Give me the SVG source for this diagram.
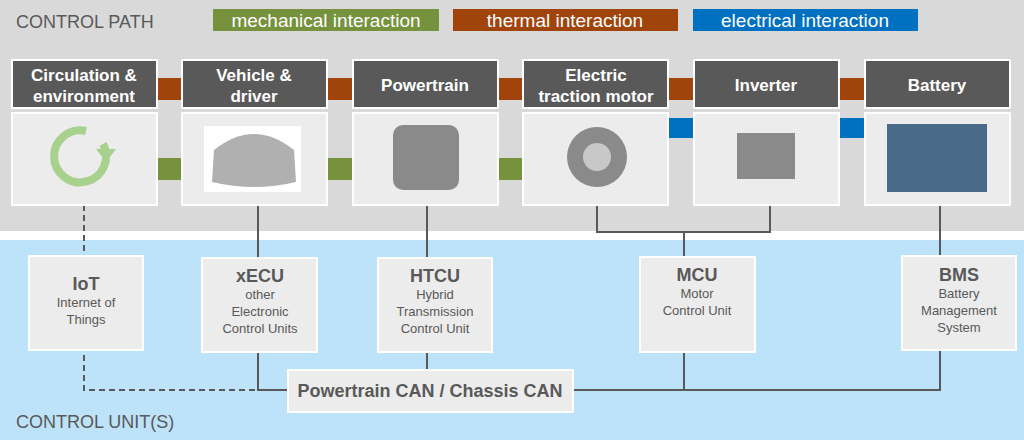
<svg xmlns="http://www.w3.org/2000/svg" width="1024" height="444" viewBox="0 0 1024 444">
<style>
text{font-family:"Liberation Sans",Arial,sans-serif}
.hd{fill:#595959;stroke:#fff;stroke-width:2}
.bd{fill:#ececec;stroke:#fff;stroke-width:2}
.ht{fill:#fff;font-size:17px;font-weight:bold;text-anchor:middle}
.ub{fill:#ececec;stroke:#fff;stroke-width:2}
.ut{fill:#595959;font-size:18px;font-weight:bold;text-anchor:middle}
.us{fill:#595959;font-size:13px;text-anchor:middle}
.th{fill:#a0440c}.me{fill:#76923c}.el{fill:#0070c0}
.ln{stroke:#595959;stroke-width:2;fill:none}
.lg{fill:#fff;font-size:19px;text-anchor:middle}
</style>
<rect width="1024" height="444" fill="#fff"/>
<rect width="1024" height="231" fill="#d9d9d9"/>
<rect y="240" width="1024" height="200" fill="#bde3fa"/>
<text x="16" y="28" font-size="18" fill="#595959">CONTROL PATH</text>
<rect x="213" y="9" width="226" height="22" class="me"/><text x="326" y="27" class="lg">mechanical interaction</text>
<rect x="453" y="9" width="225" height="22" class="th"/><text x="565" y="27" class="lg">thermal interaction</text>
<rect x="693" y="9" width="225" height="22" class="el"/><text x="805" y="27" class="lg">electrical interaction</text>
<g id="interactions">
<rect x="156" y="78" width="28" height="22" class="th"/><rect x="326" y="78" width="28" height="22" class="th"/><rect x="497" y="78" width="28" height="22" class="th"/><rect x="667" y="78" width="28" height="22" class="th"/><rect x="838" y="78" width="28" height="22" class="th"/>
<rect x="156" y="158" width="28" height="22" class="me"/><rect x="326" y="158" width="28" height="22" class="me"/><rect x="497" y="158" width="28" height="22" class="me"/>
<rect x="667" y="118" width="28" height="20" class="el"/><rect x="838" y="118" width="28" height="20" class="el"/>
</g>
<g id="connectors">
<path class="ln" d="M84 205V390H258" stroke-dasharray="6,4"/>
<path class="ln" d="M258 205V390H940V205M427 205V390M597 205V232H770V205M684 232V390"/>
</g>
<g id="circulation"><rect x="12" y="60" width="145" height="48" class="hd"/><rect x="12" y="113" width="145" height="92" class="bd"/><text x="84" y="81" class="ht">Circulation &amp;</text><text x="84" y="102" class="ht">environment</text>
<path d="M103 144A26 26 0 1 1 86 131" fill="none" stroke="#a9d18e" stroke-width="8"/><path d="M96 149L116 149L106 162Z" fill="#a9d18e"/></g>
<g id="vehicle"><rect x="182" y="60" width="145" height="48" class="hd"/><rect x="182" y="113" width="145" height="92" class="bd"/><text x="254" y="81" class="ht">Vehicle &amp;</text><text x="254" y="102" class="ht">driver</text>
<rect x="204" y="126" width="97" height="66" fill="#fff"/><path d="M214 150Q254 118 294 150L296 182Q254 192 212 182Z" fill="#b0b0b0"/></g>
<g id="powertrain"><rect x="353" y="60" width="145" height="48" class="hd"/><rect x="353" y="113" width="145" height="92" class="bd"/><text x="425" y="91" class="ht">Powertrain</text>
<rect x="393" y="125" width="66" height="65" rx="10" fill="#8a8a8a"/></g>
<g id="motor"><rect x="523" y="60" width="145" height="48" class="hd"/><rect x="523" y="113" width="145" height="92" class="bd"/><text x="596" y="81" class="ht">Electric</text><text x="596" y="102" class="ht">traction motor</text>
<circle cx="597" cy="157" r="30" fill="#8a8a8a"/><circle cx="597" cy="157" r="14" fill="#c8c8c8"/></g>
<g id="inverter"><rect x="694" y="60" width="145" height="48" class="hd"/><rect x="694" y="113" width="145" height="92" class="bd"/><text x="766" y="91" class="ht">Inverter</text>
<rect x="737" y="133" width="58" height="46" fill="#8a8a8a"/></g>
<g id="battery"><rect x="865" y="60" width="145" height="48" class="hd"/><rect x="865" y="113" width="145" height="92" class="bd"/><text x="937" y="91" class="ht">Battery</text>
<rect x="887" y="124" width="100" height="68" fill="#4a6a8a"/></g>
<g id="iot"><rect x="29" y="256" width="114" height="94" class="ub"/><text x="86" y="290" class="ut">IoT</text><text x="86" y="307" class="us">Internet of</text><text x="86" y="324" class="us">Things</text></g>
<g id="xecu"><rect x="202" y="258" width="115" height="94" class="ub"/><text x="260" y="282" class="ut">xECU</text><text x="260" y="299" class="us">other</text><text x="260" y="316" class="us">Electronic</text><text x="260" y="333" class="us">Control Units</text></g>
<g id="htcu"><rect x="378" y="258" width="114" height="94" class="ub"/><text x="435" y="282" class="ut">HTCU</text><text x="435" y="299" class="us">Hybrid</text><text x="435" y="316" class="us">Transmission</text><text x="435" y="333" class="us">Control Unit</text></g>
<g id="mcu"><rect x="640" y="257" width="115" height="95" class="ub"/><text x="697" y="281" class="ut">MCU</text><text x="697" y="298" class="us">Motor</text><text x="697" y="315" class="us">Control Unit</text></g>
<g id="bms"><rect x="902" y="256" width="114" height="94" class="ub"/><text x="959" y="281" class="ut">BMS</text><text x="959" y="298" class="us">Battery</text><text x="959" y="315" class="us">Management</text><text x="959" y="332" class="us">System</text></g>
<g id="can"><rect x="288" y="370" width="285" height="42" class="ub"/><text x="430" y="397" class="ut" font-size="17">Powertrain CAN / Chassis CAN</text></g>
<text x="16" y="428" font-size="18" fill="#595959">CONTROL UNIT(S)</text>
</svg>
